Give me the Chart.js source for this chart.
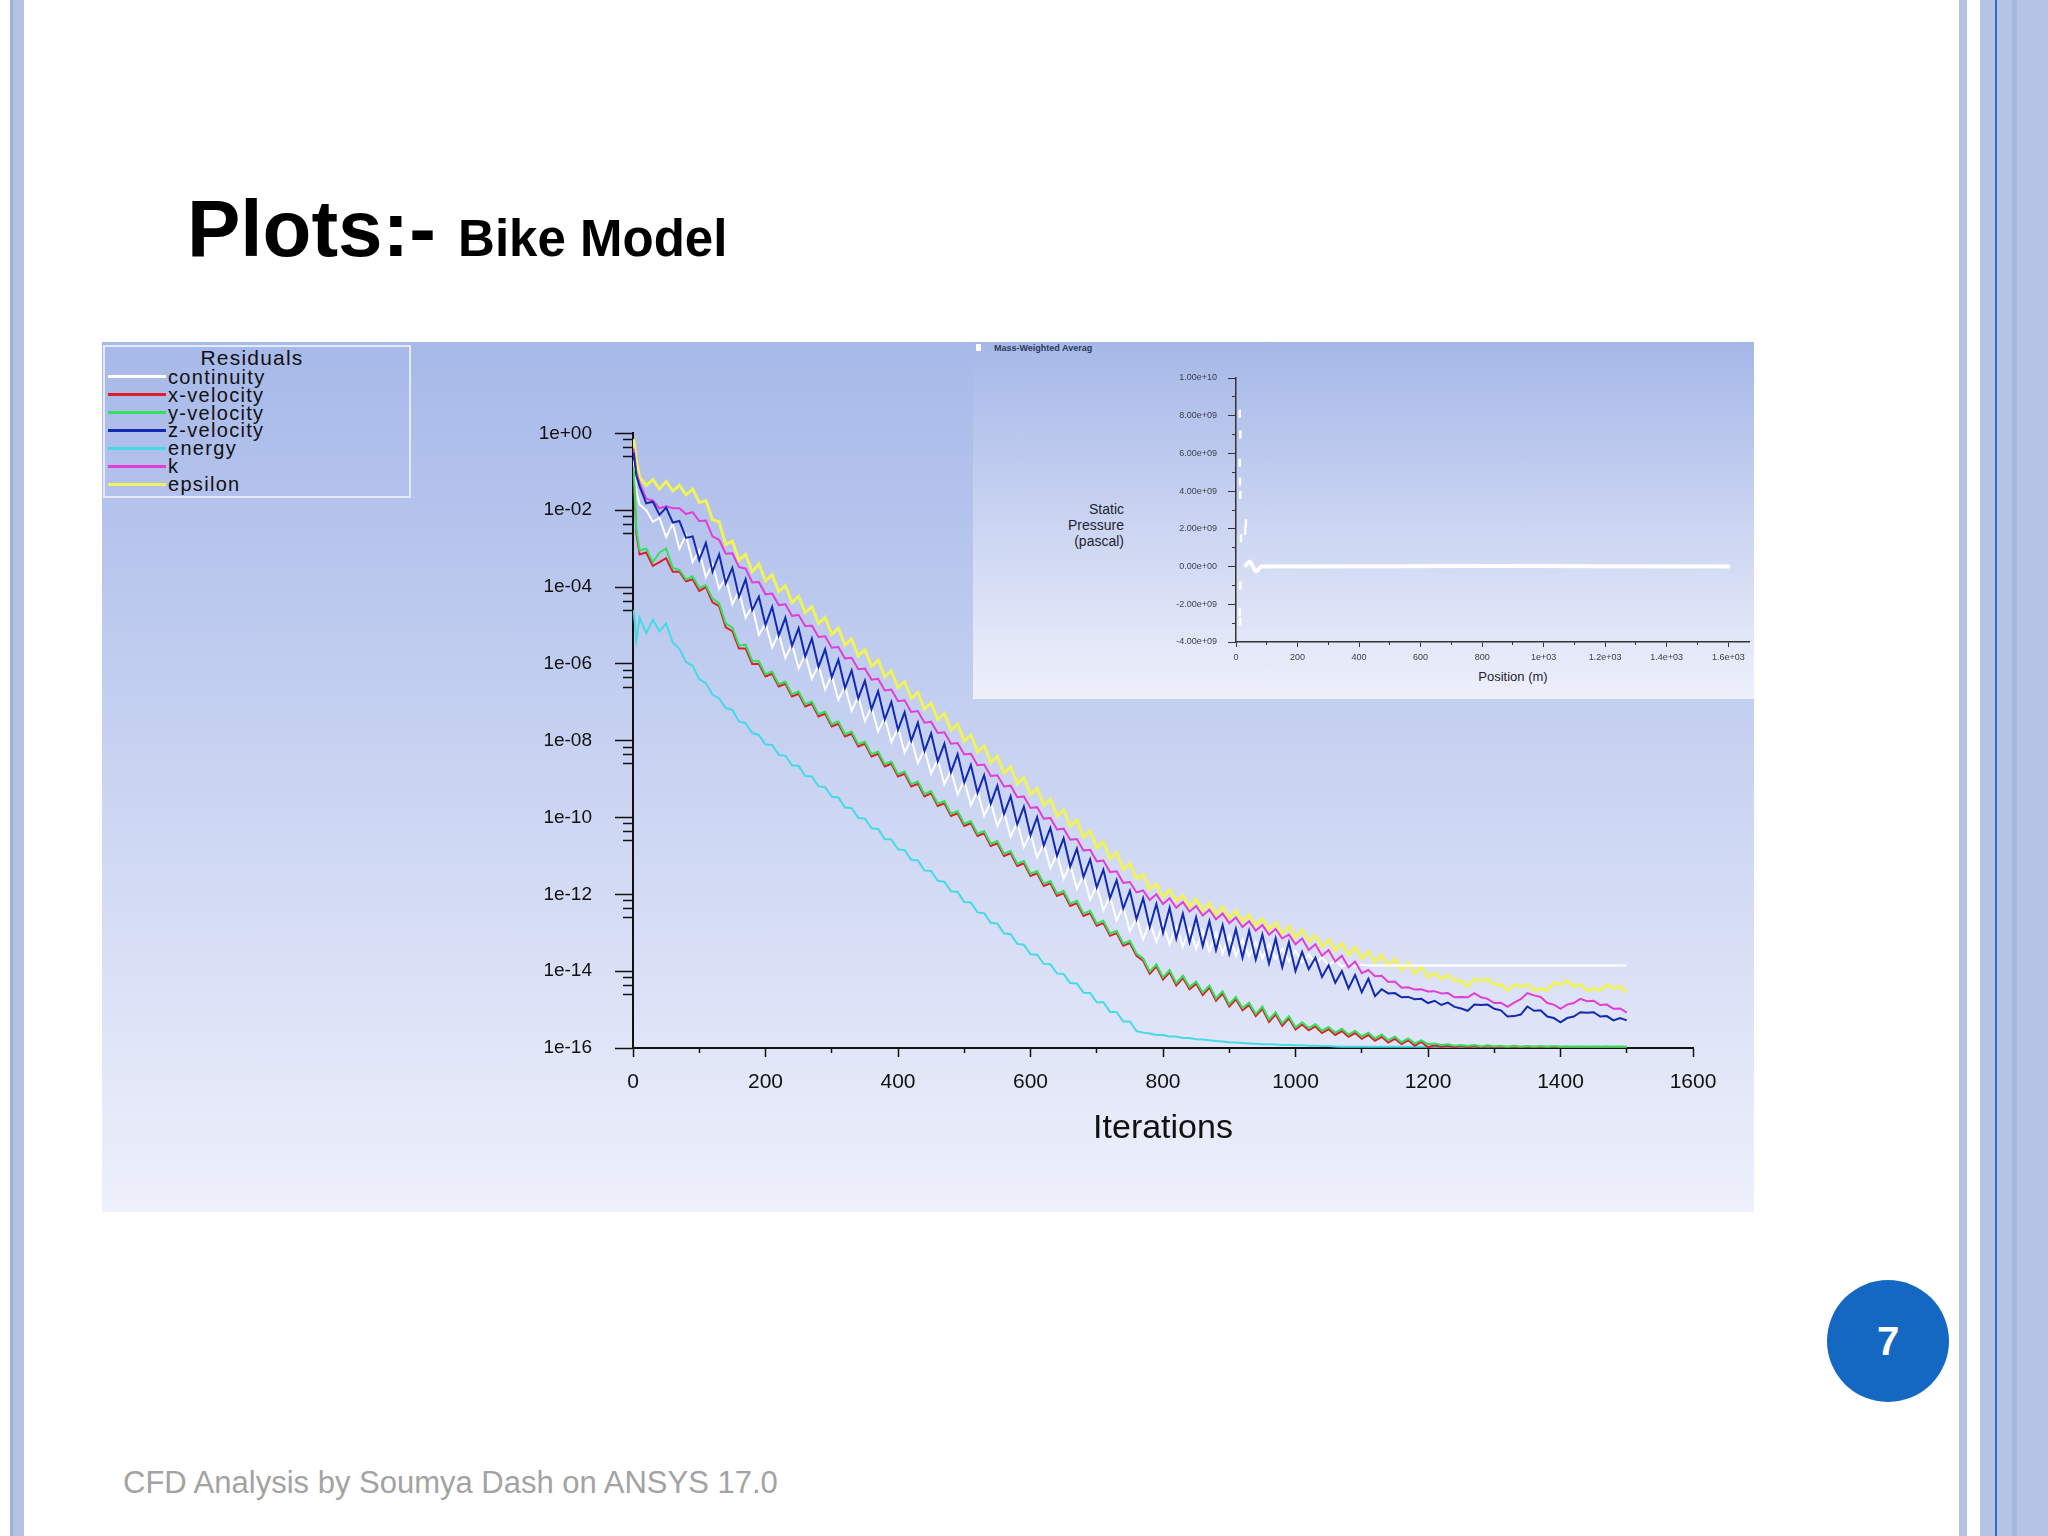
<!DOCTYPE html>
<html>
<head>
<meta charset="utf-8">
<title>Plots:- Bike Model</title>
<script src="https://cdn.jsdelivr.net/npm/chart.js@4.4.1/dist/chart.umd.min.js"></script>
<style>
  html, body { margin: 0; padding: 0; background: #fff; }
  body { width: 2048px; height: 1536px; position: relative; overflow: hidden; font-family: 'Liberation Sans', Arial, sans-serif; }
  .abs { position: absolute; }
  #stripeL { left: 10px; top: 0; width: 11px; height: 1536px; background: #b5c3e1; border-left: 3px solid #9fb2d8; }
  #stripeR1 { left: 1959px; top: 0; width: 8px; height: 1536px; background: #b7c2e3; }
  #stripeR2 { left: 1980px; top: 0; width: 68px; height: 1536px;
    background: linear-gradient(to right, #b5c4e4 0, #b5c4e4 15px, #2e6fc4 15px, #2e6fc4 17px, #b5c4e4 17px, #b5c4e4 32px, #a4b7dd 32px, #a4b7dd 37px, #b5c4e4 37px); }
  #title { left: 187px; top: 189px; font-size: 80px; line-height: 80px; font-weight: bold; color: #000; white-space: nowrap; }
  #title span { font-size: 51px; }
  #footer { left: 123px; top: 1467px; font-size: 31px; line-height: 31px; color: #a3a3a3; white-space: nowrap; }
  #pageNo { left: 1827px; top: 1280px; width: 122px; height: 122px; border-radius: 50%; background: #1468c2;
    color: #fff; font-weight: bold; font-size: 40px; display: flex; align-items: center; justify-content: center; }
  #plotBg { left: 102px; top: 342px; width: 1652px; height: 870px; background: linear-gradient(to bottom, #a7b9e9 0%, #c6d1f1 45%, #eef0fb 100%); }
  #legend { left: 103px; top: 345px; width: 308px; height: 153px; box-sizing: border-box; border: 2px solid #e4eafa; }
  .legTitle { position: absolute; text-align: center; font-size: 21px; letter-spacing: 1.2px; color: #111; }
  .legRow { position: absolute; font-size: 20px; line-height: 18px; letter-spacing: 1.3px; color: #111; white-space: nowrap; }
  .legLine { position: absolute; height: 3px; }
  #insetBg { left: 973px; top: 342px; width: 781px; height: 357px; background: linear-gradient(to bottom, #a6b8e8 0%, #eef0fb 100%); }
  #insetLeg { left: 994px; top: 343px; font-size: 9px; line-height: 10px; font-weight: bold; color: #2c3a5c; white-space: nowrap; }
  #insetMark { left: 976px; top: 344px; width: 5px; height: 7px; background: #fff; }
  #insetYTitle { left: 1040px; top: 502px; width: 84px; text-align: right; font-size: 14px; line-height: 15.8px; color: #1e2430; }
  #insetXTitle { left: 1453px; top: 669px; width: 120px; text-align: center; font-size: 13px; line-height: 16px; color: #1e2430; }
  #mainChart { left: 533px; top: 399px; }
  #insetChart { left: 1126px; top: 360px; }
</style>
</head>
<body>
<div class="abs" id="stripeL"></div>
<div class="abs" id="stripeR1"></div>
<div class="abs" id="stripeR2"></div>
<div class="abs" id="title">Plots:- <span>Bike Model</span></div>

<div class="abs" id="plotBg"></div>
<div class="abs" id="insetBg"></div>
<div class="abs" id="insetMark"></div>
<div class="abs" id="insetLeg">Mass-Weighted Averag</div>
<div class="abs" id="insetYTitle">Static<br>Pressure<br>(pascal)</div>
<div class="abs" id="insetXTitle">Position (m)</div>
<div class="abs" id="legend"></div>
<div id="legendRows"></div>

<canvas class="abs" id="mainChart" width="1200" height="773"></canvas>
<canvas class="abs" id="insetChart" width="630" height="339"></canvas>

<div class="abs" id="footer">CFD Analysis by Soumya Dash on ANSYS 17.0</div>
<div class="abs" id="pageNo">7</div>

<script>
// iteration numbers the residuals are read at
const iterations = [1, 5,
  10, 20, 30, 40, 50, 60, 70, 80, 90, 100,
  110, 120, 130, 140, 150, 160, 170, 180, 190, 200,
  210, 220, 230, 240, 250, 260, 270, 280, 290, 300,
  310, 320, 330, 340, 350, 360, 370, 380, 390, 400,
  410, 420, 430, 440, 450, 460, 470, 480, 490, 500,
  510, 520, 530, 540, 550, 560, 570, 580, 590, 600,
  610, 620, 630, 640, 650, 660, 670, 680, 690, 700,
  710, 720, 730, 740, 750, 760, 770, 780, 790, 800,
  810, 820, 830, 840, 850, 860, 870, 880, 890, 900,
  910, 920, 930, 940, 950, 960, 970, 980, 990, 1000,
  1010, 1020, 1030, 1040, 1050, 1060, 1070, 1080, 1090, 1100,
  1110, 1120, 1130, 1140, 1150, 1160, 1170, 1180, 1190, 1200,
  1210, 1220, 1230, 1240, 1250, 1260, 1270, 1280, 1290, 1300,
  1310, 1320, 1330, 1340, 1350, 1360, 1370, 1380, 1390, 1400,
  1410, 1420, 1430, 1440, 1450, 1460, 1470, 1480, 1490, 1500];

// residuals, as log10 of the value
const continuityLog = [-0.7, -1.5,
  -1.85, -2.0, -2.3, -2.2, -2.7, -2.35, -3.0, -2.65, -3.35, -3.05,
  -3.75, -3.4, -4.05, -3.75, -4.45, -4.1, -4.8, -4.5, -5.25, -4.94,
  -5.57, -5.21, -5.85, -5.48, -6.12, -5.76, -6.39, -6.03, -6.67, -6.3,
  -6.94, -6.58, -7.22, -6.85, -7.49, -7.13, -7.76, -7.4, -8.04, -7.67,
  -8.31, -7.95, -8.58, -8.22, -8.86, -8.49, -9.13, -8.77, -9.4, -9.04,
  -9.68, -9.31, -9.95, -9.59, -10.22, -9.86, -10.5, -10.13, -10.77, -10.41,
  -11.04, -10.68, -11.32, -10.95, -11.59, -11.23, -11.86, -11.5, -12.14, -11.77,
  -12.41, -12.05, -12.68, -12.32, -12.96, -12.6, -13.18, -12.71, -13.24, -12.77,
  -13.3, -12.83, -13.36, -12.89, -13.42, -12.95, -13.48, -13.01, -13.54, -13.07,
  -13.6, -13.18, -13.61, -13.24, -13.67, -13.3, -13.68, -13.41, -13.74, -13.47,
  -13.77, -13.56, -13.81, -13.64, -13.85, -13.72, -13.88, -13.8, -13.87, -13.83,
  -13.85, -13.85, -13.85, -13.85, -13.85, -13.85, -13.85, -13.85, -13.85, -13.85,
  -13.85, -13.85, -13.85, -13.85, -13.85, -13.85, -13.85, -13.85, -13.85, -13.85,
  -13.85, -13.85, -13.85, -13.85, -13.85, -13.85, -13.85, -13.85, -13.85, -13.85,
  -13.85, -13.85, -13.85, -13.85, -13.85, -13.85, -13.85, -13.85, -13.85, -13.85];

const xVelocityLog = [-1.0, -2.6,
  -3.15, -3.1, -3.45, -3.35, -3.25, -3.6, -3.6, -3.85, -3.8, -4.1,
  -4.0, -4.4, -4.5, -5.05, -5.15, -5.6, -5.6, -6.0, -6.0, -6.33,
  -6.26, -6.59, -6.52, -6.85, -6.78, -7.11, -7.04, -7.37, -7.3, -7.63,
  -7.56, -7.89, -7.82, -8.15, -8.08, -8.41, -8.34, -8.67, -8.6, -8.93,
  -8.86, -9.19, -9.12, -9.45, -9.37, -9.7, -9.63, -9.96, -9.89, -10.22,
  -10.15, -10.48, -10.41, -10.74, -10.67, -11.0, -10.93, -11.26, -11.19, -11.52,
  -11.45, -11.78, -11.71, -12.04, -11.97, -12.3, -12.23, -12.56, -12.49, -12.82,
  -12.75, -13.08, -13.01, -13.34, -13.27, -13.6, -13.73, -14.07, -13.88, -14.22,
  -14.03, -14.37, -14.18, -14.47, -14.33, -14.62, -14.43, -14.77, -14.58, -14.92,
  -14.73, -15.02, -14.88, -15.17, -14.98, -15.32, -15.13, -15.42, -15.23, -15.52,
  -15.39, -15.54, -15.44, -15.61, -15.51, -15.66, -15.56, -15.71, -15.61, -15.76,
  -15.66, -15.81, -15.71, -15.86, -15.76, -15.9, -15.8, -15.94, -15.84, -15.98,
  -15.93, -15.97, -15.94, -15.98, -15.94, -15.98, -15.95, -15.99, -15.95, -15.99,
  -15.96, -15.99, -15.96, -15.99, -15.97, -15.99, -15.97, -15.99, -15.98, -15.99,
  -15.98, -15.99, -15.98, -15.99, -15.98, -15.99, -15.98, -15.99, -15.98, -15.99];

const yVelocityLog = [-0.9, -2.5,
  -3.05, -3.0, -3.35, -3.1, -3.0, -3.5, -3.55, -3.8, -3.72, -4.02,
  -3.95, -4.3, -4.42, -4.95, -5.05, -5.52, -5.5, -5.92, -5.93, -6.27,
  -6.2, -6.53, -6.46, -6.79, -6.72, -7.05, -6.98, -7.31, -7.24, -7.57,
  -7.5, -7.83, -7.76, -8.09, -8.02, -8.35, -8.28, -8.61, -8.54, -8.87,
  -8.8, -9.13, -9.06, -9.39, -9.31, -9.64, -9.57, -9.9, -9.83, -10.16,
  -10.09, -10.42, -10.35, -10.68, -10.61, -10.94, -10.87, -11.2, -11.13, -11.46,
  -11.39, -11.72, -11.65, -11.98, -11.91, -12.24, -12.17, -12.5, -12.43, -12.76,
  -12.69, -13.02, -12.95, -13.28, -13.21, -13.54, -13.67, -14.01, -13.82, -14.16,
  -13.97, -14.31, -14.12, -14.41, -14.27, -14.56, -14.37, -14.71, -14.52, -14.86,
  -14.67, -14.96, -14.82, -15.11, -14.92, -15.26, -15.07, -15.36, -15.17, -15.46,
  -15.33, -15.48, -15.38, -15.55, -15.45, -15.6, -15.5, -15.65, -15.55, -15.7,
  -15.6, -15.75, -15.65, -15.8, -15.7, -15.85, -15.75, -15.88, -15.8, -15.9,
  -15.88, -15.92, -15.9, -15.94, -15.92, -15.95, -15.92, -15.96, -15.93, -15.96,
  -15.94, -15.97, -15.94, -15.97, -15.95, -15.97, -15.95, -15.97, -15.95, -15.97,
  -15.96, -15.97, -15.96, -15.97, -15.96, -15.97, -15.96, -15.97, -15.96, -15.97];

const zVelocityLog = [-0.5, -1.1,
  -1.38, -1.82, -1.78, -2.12, -1.93, -2.32, -2.28, -2.72, -2.68, -3.3,
  -2.85, -3.6, -3.15, -3.9, -3.5, -4.25, -3.8, -4.6, -4.25, -4.99,
  -4.52, -5.26, -4.8, -5.53, -5.07, -5.81, -5.34, -6.08, -5.62, -6.35,
  -5.89, -6.63, -6.17, -6.9, -6.44, -7.18, -6.71, -7.45, -6.99, -7.72,
  -7.26, -8.0, -7.53, -8.27, -7.81, -8.54, -8.08, -8.82, -8.35, -9.09,
  -8.63, -9.36, -8.9, -9.64, -9.17, -9.91, -9.45, -10.18, -9.72, -10.46,
  -9.99, -10.73, -10.27, -11.0, -10.54, -11.28, -10.81, -11.55, -11.09, -11.82,
  -11.36, -12.1, -11.63, -12.37, -11.91, -12.65, -12.1, -12.85, -12.25, -13.0,
  -12.35, -13.15, -12.5, -13.25, -12.6, -13.35, -12.7, -13.45, -12.8, -13.55,
  -12.9, -13.65, -12.95, -13.7, -13.05, -13.8, -13.15, -13.9, -13.25, -14.0,
  -13.5, -13.95, -13.65, -14.15, -13.85, -14.3, -14.0, -14.45, -14.1, -14.55,
  -14.2, -14.65, -14.47, -14.58, -14.57, -14.68, -14.67, -14.73, -14.72, -14.83,
  -14.77, -14.88, -14.82, -14.93, -14.97, -15.03, -14.87, -14.88, -14.87, -14.98,
  -15.02, -15.18, -15.17, -15.13, -14.92, -15.03, -15.02, -15.18, -15.22, -15.33,
  -15.22, -15.18, -15.07, -15.08, -15.07, -15.18, -15.17, -15.28, -15.22, -15.28];

const energyLog = [-4.6, -5.4,
  -4.8, -5.2, -4.85, -5.15, -4.95, -5.45, -5.6, -5.95, -6.05, -6.4,
  -6.5, -6.8, -6.9, -7.15, -7.2, -7.5, -7.55, -7.8, -7.85, -8.1,
  -8.11, -8.37, -8.39, -8.64, -8.66, -8.92, -8.93, -9.19, -9.21, -9.46,
  -9.48, -9.74, -9.75, -10.01, -10.03, -10.28, -10.3, -10.56, -10.57, -10.83,
  -10.85, -11.1, -11.12, -11.38, -11.39, -11.65, -11.67, -11.92, -11.94, -12.2,
  -12.21, -12.47, -12.49, -12.74, -12.76, -13.02, -13.03, -13.29, -13.31, -13.56,
  -13.57, -13.81, -13.82, -14.06, -14.07, -14.31, -14.32, -14.56, -14.57, -14.81,
  -14.81, -15.06, -15.06, -15.31, -15.31, -15.56, -15.6, -15.62, -15.66, -15.66,
  -15.7, -15.7, -15.74, -15.74, -15.77, -15.78, -15.8, -15.82, -15.83, -15.85,
  -15.86, -15.87, -15.88, -15.89, -15.9, -15.9, -15.91, -15.92, -15.92, -15.93,
  -15.93, -15.94, -15.94, -15.95, -15.95, -15.96, -15.97, -15.97, -15.97, -15.97,
  -15.97, -15.97, -15.97, -15.97, -15.97, -15.97, -15.97, -15.97, -15.97, -15.97,
  -15.97, -15.97, -15.97, -15.97, -15.97, -15.97, -15.97, -15.97, -15.97, -15.97,
  -15.97, -15.97, -15.97, -15.97, -15.97, -15.97, -15.97, -15.97, -15.97, -15.97,
  -15.97, -15.97, -15.97, -15.97, -15.97, -15.97, -15.97, -15.97, -15.97, -15.97];

const kLog = [-0.4, -1.0,
  -1.3, -1.7, -1.75, -1.95, -1.9, -1.95, -1.95, -2.1, -2.05, -2.28,
  -2.27, -2.68, -2.77, -3.13, -3.12, -3.48, -3.52, -3.88, -3.87, -4.19,
  -4.17, -4.47, -4.45, -4.75, -4.73, -5.02, -5.0, -5.3, -5.28, -5.58,
  -5.56, -5.86, -5.84, -6.14, -6.12, -6.41, -6.39, -6.69, -6.67, -6.97,
  -6.95, -7.25, -7.23, -7.53, -7.51, -7.8, -7.78, -8.08, -8.06, -8.36,
  -8.34, -8.64, -8.62, -8.92, -8.9, -9.19, -9.17, -9.47, -9.45, -9.75,
  -9.73, -10.03, -10.01, -10.31, -10.29, -10.58, -10.56, -10.86, -10.84, -11.14,
  -11.12, -11.42, -11.4, -11.7, -11.68, -11.95, -11.9, -12.15, -12.0, -12.25,
  -12.1, -12.35, -12.2, -12.45, -12.3, -12.55, -12.4, -12.65, -12.5, -12.75,
  -12.6, -12.85, -12.7, -12.95, -12.8, -13.05, -12.9, -13.15, -13.05, -13.3,
  -13.15, -13.45, -13.3, -13.6, -13.45, -13.75, -13.6, -13.9, -13.75, -14.05,
  -13.97, -14.13, -14.12, -14.28, -14.27, -14.43, -14.42, -14.48, -14.47, -14.53,
  -14.52, -14.58, -14.57, -14.68, -14.67, -14.68, -14.57, -14.68, -14.72, -14.83,
  -14.82, -14.93, -14.82, -14.73, -14.57, -14.63, -14.67, -14.83, -14.87, -14.98,
  -14.87, -14.83, -14.72, -14.78, -14.77, -14.88, -14.87, -14.98, -14.97, -15.08];

const epsilonLog = [-0.15, -0.7,
  -1.15, -1.35, -1.2, -1.45, -1.25, -1.5, -1.35, -1.6, -1.45, -1.8,
  -1.75, -2.25, -2.3, -2.9, -2.8, -3.3, -3.15, -3.6, -3.4, -3.84,
  -3.68, -4.12, -3.96, -4.4, -4.24, -4.67, -4.51, -4.95, -4.79, -5.23,
  -5.07, -5.51, -5.35, -5.79, -5.63, -6.06, -5.9, -6.34, -6.18, -6.62,
  -6.46, -6.9, -6.74, -7.18, -7.02, -7.45, -7.29, -7.73, -7.57, -8.01,
  -7.85, -8.29, -8.13, -8.57, -8.41, -8.84, -8.68, -9.12, -8.96, -9.4,
  -9.24, -9.68, -9.52, -9.96, -9.8, -10.23, -10.07, -10.51, -10.35, -10.79,
  -10.63, -11.07, -10.91, -11.35, -11.19, -11.6, -11.48, -11.87, -11.73, -12.07,
  -11.88, -12.17, -12.03, -12.32, -12.13, -12.42, -12.23, -12.52, -12.33, -12.62,
  -12.43, -12.72, -12.53, -12.82, -12.63, -12.92, -12.73, -13.02, -12.83, -13.12,
  -12.93, -13.22, -13.08, -13.37, -13.18, -13.47, -13.28, -13.57, -13.38, -13.67,
  -13.48, -13.77, -13.58, -13.87, -13.68, -13.97, -13.78, -14.07, -13.88, -14.17,
  -14.05, -14.2, -14.1, -14.25, -14.25, -14.4, -14.2, -14.25, -14.2, -14.35,
  -14.35, -14.5, -14.35, -14.4, -14.35, -14.5, -14.45, -14.5, -14.3, -14.35,
  -14.25, -14.4, -14.35, -14.5, -14.45, -14.5, -14.35, -14.45, -14.4, -14.55];

const seriesNames = ['continuity', 'x-velocity', 'y-velocity', 'z-velocity', 'energy', 'k', 'epsilon'];
const seriesLogs = [continuityLog, xVelocityLog, yVelocityLog, zVelocityLog, energyLog, kLog, epsilonLog];

// axis ticks
const yTickValues = [1e-16, 1e-14, 1e-12, 1e-10, 1e-8, 1e-6, 1e-4, 1e-2, 1];
const yTickLabels = ['1e-16', '1e-14', '1e-12', '1e-10', '1e-08', '1e-06', '1e-04', '1e-02', '1e+00'];
const yMinorFactors = [0.68, 0.43, 0.25];
const xTickValues = [0, 200, 400, 600, 800, 1000, 1200, 1400, 1600];
const xTickLabels = ['0', '200', '400', '600', '800', '1000', '1200', '1400', '1600'];
const xMinorTicks = [100, 300, 500, 700, 900, 1100, 1300, 1500];

// inset: static pressure vs position
const insetLinePosition = [28, 45, 65, 84, 1605];
const insetLinePressure = [0, 2.5e8, -2.5e8, 0, 0];
const insetMarkPosition = [12, 14, 12, 13, 14, 32, 30, 16, 14, 12, 13];
const insetMarkPressure = [8.1e9, 7.0e9, 5.5e9, 4.5e9, 3.8e9, 2.3e9, 1.9e9, 1.5e9, -1.0e9, -2.4e9, -2.9e9];
const insetYTicks = [-4e9, -2e9, 0, 2e9, 4e9, 6e9, 8e9, 1e10];
const insetYLabels = ['-4.00e+09', '-2.00e+09', '0.00e+00', '2.00e+09', '4.00e+09', '6.00e+09', '8.00e+09', '1.00e+10'];
const insetYMinor = [-3e9, -1e9, 1e9, 3e9, 5e9, 7e9, 9e9];
const insetXTicks = [0, 200, 400, 600, 800, 1000, 1200, 1400, 1600];
const insetXLabels = ['0', '200', '400', '600', '800', '1e+03', '1.2e+03', '1.4e+03', '1.6e+03'];
const insetXMinor = [100, 300, 500, 700, 900, 1100, 1300, 1500];

const seriesStyle = {
  'continuity': { color: '#ffffff', width: 2, order: 6 },
  'x-velocity': { color: '#dc1f2c', width: 2, order: 2 },
  'y-velocity': { color: '#34e05a', width: 2, order: 1 },
  'z-velocity': { color: '#1329b0', width: 2, order: 4 },
  'energy':     { color: '#45dbe4', width: 2, order: 3 },
  'k':          { color: '#e03ed6', width: 2, order: 5 },
  'epsilon':    { color: '#f0f25a', width: 3, order: 7 }
};

const FONT = "'Liberation Sans', Arial, sans-serif";

function setTicks(values) {
  return scale => { scale.ticks = values.map(v => ({ value: v })); };
}

function buildLegend(datasets) {
  const box = document.getElementById('legendRows');
  const title = document.createElement('div');
  title.className = 'legTitle';
  title.style.left = '103px';
  title.style.width = '298px';
  title.style.top = '346px';
  title.textContent = 'Residuals';
  box.appendChild(title);
  datasets.forEach((ds, i) => {
    const y = 376.7 + 17.9 * i;
    const line = document.createElement('div');
    line.className = 'legLine';
    line.style.left = '108px';
    line.style.width = '58px';
    line.style.top = (y - 1.5) + 'px';
    line.style.background = ds.borderColor;
    box.appendChild(line);
    const txt = document.createElement('div');
    txt.className = 'legRow';
    txt.style.left = '168px';
    txt.style.top = (y - 9) + 'px';
    txt.textContent = ds.label;
    box.appendChild(txt);
  });
}

function initMainChart() {
  const datasets = seriesNames.map((name, i) => ({
    label: name,
    data: iterations.map((it, j) => ({ x: it, y: Math.pow(10, seriesLogs[i][j]) })),
    borderColor: seriesStyle[name].color,
    borderWidth: seriesStyle[name].width,
    order: seriesStyle[name].order,
    pointRadius: 0,
    tension: 0,
    fill: false
  }));

  const yMinorTicks = [];
  yTickValues.forEach(v => { if (v > 1e-16) yMinorFactors.forEach(f => yMinorTicks.push(v * f)); });
  yMinorTicks.sort((a, b) => a - b);

  new Chart(document.getElementById('mainChart'), {
    type: 'line',
    data: { datasets },
    options: {
      responsive: false, animation: false, events: [],
      layout: { padding: { top: 0, right: 40, bottom: 0, left: 0 } },
      plugins: { legend: { display: false }, tooltip: { enabled: false } },
      scales: {
        x: {
          type: 'linear', position: 'bottom', min: 0, max: 1600, weight: 1,
          afterBuildTicks: setTicks(xTickValues),
          afterFit: s => { s.height = 124; },
          grid: { drawOnChartArea: false, tickLength: 9, color: '#111', tickWidth: 1.5 },
          border: { display: true, color: '#111', width: 2 },
          ticks: {
            autoSkip: false, maxRotation: 0, padding: 13, color: '#111',
            font: { family: FONT, size: 21 },
            callback: v => xTickLabels[xTickValues.indexOf(v)]
          },
          title: {
            display: true, text: 'Iterations', color: '#111',
            font: { family: "'Liberation Sans Narrow', " + FONT, size: 34 },
            padding: { top: 0, bottom: 23 }
          }
        },
        xMinor: {
          type: 'linear', position: 'bottom', min: 0, max: 1600, weight: 0,
          afterBuildTicks: setTicks(xMinorTicks),
          afterFit: s => { s.height = 0; },
          grid: { drawOnChartArea: false, tickLength: 5, color: '#111', tickWidth: 1.5 },
          border: { display: false },
          ticks: { display: false }
        },
        y: {
          type: 'logarithmic', position: 'left', min: 1e-16, max: 1, weight: 1,
          afterBuildTicks: setTicks(yTickValues),
          afterFit: s => { s.width = 100; },
          grid: { drawOnChartArea: false, tickLength: 18, color: '#111', tickWidth: 1.5 },
          border: { display: true, color: '#111', width: 2 },
          ticks: {
            autoSkip: false, padding: 23, color: '#111',
            font: { family: FONT, size: 19 },
            callback: v => yTickLabels[yTickValues.indexOf(v)]
          }
        },
        yMinor: {
          type: 'logarithmic', position: 'left', min: 1e-16, max: 1, weight: 0,
          afterBuildTicks: setTicks(yMinorTicks),
          afterFit: s => { s.width = 0; },
          grid: { drawOnChartArea: false, tickLength: 10, color: '#111', tickWidth: 1.5 },
          border: { display: false },
          ticks: { display: false }
        }
      }
    }
  });

  buildLegend(datasets);
}

function initInsetChart() {
  new Chart(document.getElementById('insetChart'), {
    type: 'line',
    data: {
      datasets: [
        {
          label: 'Mass-Weighted Average',
          data: insetLinePosition.map((p, i) => ({ x: p, y: insetLinePressure[i] })),
          borderColor: '#ffffff', borderWidth: 4, pointRadius: 0, tension: 0.3, fill: false
        },
        {
          label: 'start',
          data: insetMarkPosition.map((p, i) => ({ x: p, y: insetMarkPressure[i] })),
          showLine: false, pointStyle: 'line', rotation: 90, pointRadius: 4,
          borderColor: '#ffffff', borderWidth: 2.5
        }
      ]
    },
    options: {
      responsive: false, animation: false, events: [],
      layout: { padding: { top: 18, right: 3, bottom: 0, left: 0 } },
      plugins: { legend: { display: false }, tooltip: { enabled: false } },
      scales: {
        x: {
          type: 'linear', position: 'bottom', min: 0, max: 1669, weight: 1,
          afterBuildTicks: setTicks(insetXTicks),
          afterFit: s => { s.height = 57; },
          grid: { drawOnChartArea: false, tickLength: 5, color: '#333' },
          border: { display: true, color: '#333', width: 1.5 },
          ticks: {
            autoSkip: false, maxRotation: 0, padding: 5, color: '#3a3f4c',
            font: { family: FONT, size: 9 },
            callback: v => insetXLabels[insetXTicks.indexOf(v)]
          }
        },
        xMinor: {
          type: 'linear', position: 'bottom', min: 0, max: 1669, weight: 0,
          afterBuildTicks: setTicks(insetXMinor),
          afterFit: s => { s.height = 0; },
          grid: { drawOnChartArea: false, tickLength: 3, color: '#333' },
          border: { display: false },
          ticks: { display: false }
        },
        y: {
          type: 'linear', position: 'left', min: -4e9, max: 1e10, weight: 1,
          afterBuildTicks: setTicks(insetYTicks),
          afterFit: s => { s.width = 110; },
          grid: { drawOnChartArea: false, tickLength: 8, color: '#333' },
          border: { display: true, color: '#333', width: 1.5 },
          ticks: {
            autoSkip: false, padding: 11, color: '#3a3f4c',
            font: { family: FONT, size: 9 },
            callback: v => insetYLabels[insetYTicks.indexOf(v)]
          }
        },
        yMinor: {
          type: 'linear', position: 'left', min: -4e9, max: 1e10, weight: 0,
          afterBuildTicks: setTicks(insetYMinor),
          afterFit: s => { s.width = 0; },
          grid: { drawOnChartArea: false, tickLength: 4, color: '#333' },
          border: { display: false },
          ticks: { display: false }
        }
      }
    }
  });
}

document.addEventListener('DOMContentLoaded', () => {
  Chart.defaults.font.family = FONT;
  initMainChart();
  initInsetChart();
});
</script>
</body>
</html>
